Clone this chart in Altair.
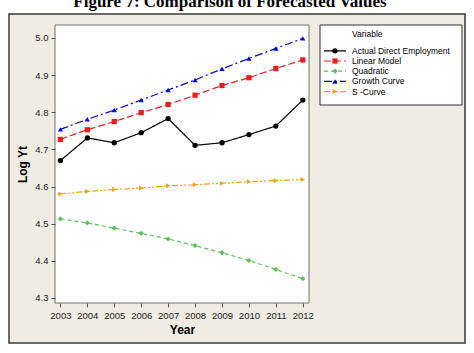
import altair as alt
import pandas as pd

years = [2003, 2004, 2005, 2006, 2007, 2008, 2009, 2010, 2011, 2012]
series_names = ["Actual Direct Employment", "Linear  Model", "Quadratic", "Growth Curve", "S -Curve"]
actual = [4.670, 4.731, 4.718, 4.745, 4.783, 4.711, 4.718, 4.740, 4.763, 4.833]
linear = [4.727, 4.753, 4.775, 4.799, 4.821, 4.846, 4.872, 4.893, 4.918, 4.941]
quadratic = [4.513, 4.502, 4.488, 4.474, 4.459, 4.441, 4.422, 4.401, 4.377, 4.352]
growth = [4.754, 4.781, 4.806, 4.833, 4.860, 4.887, 4.917, 4.945, 4.972, 4.999]
scurve = [4.580, 4.587, 4.592, 4.596, 4.602, 4.605, 4.609, 4.613, 4.616, 4.619]
y_ticks = [4.3, 4.4, 4.5, 4.6, 4.7, 4.8, 4.9, 5.0]

colors = ["#000000", "#ee1c1c", "#5cc05c", "#0000ee", "#f5a01a"]
shapes = ["circle", "square", "diamond", "triangle-up", "triangle-right"]
dashes = [[1, 0], [7, 3], [4, 3], [8, 3, 2, 3], [6, 2, 2, 2, 2, 2]]
sizes = [28, 26, 40, 42, 42]

rows = []
for name, vals in zip(series_names, [actual, linear, quadratic, growth, scurve]):
    for yr, v in zip(years, vals):
        rows.append({"series": name, "year": yr, "value": v})
df = pd.DataFrame(rows)
leg_df = pd.DataFrame({"series": series_names})
one = pd.DataFrame({"a": [0]})

W, H = 254, 278
FONT = "Liberation Sans"

color = alt.Color("series:N", scale=alt.Scale(domain=series_names, range=colors), legend=None)
shape = alt.Shape("series:N", scale=alt.Scale(domain=series_names, range=shapes), legend=None)
dash = alt.StrokeDash("series:N", scale=alt.Scale(domain=series_names, range=dashes), legend=None)
size = alt.Size("series:O", scale=alt.Scale(domain=series_names, range=sizes), legend=None)

axis_common = dict(grid=False, domain=False, zindex=2, tickSize=4, tickColor="#555555",
                   labelFont=FONT, labelFontSize=9.5, labelColor="#222222", titleFont=FONT,
                   titleFontSize=12, titleFontWeight="bold", titleColor="black", labelPadding=3)

x = alt.X("year:Q", scale=alt.Scale(domain=[2002.8, 2012.23], nice=False, zero=False),
          axis=alt.Axis(values=years, format="d", title="Year", titlePadding=5, **axis_common))
y = alt.Y("value:Q", scale=alt.Scale(domain=[4.2865, 5.035], nice=False, zero=False),
          axis=alt.Axis(values=y_ticks, format=".1f", title="Log Yt", titlePadding=5, **axis_common))

frame = alt.Chart(one).mark_rect(fill="#efece3", stroke="#3a3a3a", strokeWidth=1.5).encode(
    x=alt.value(-46), x2=alt.value(410), y=alt.value(-11), y2=alt.value(318))
plotbg = alt.Chart(one).mark_rect(fill="white", stroke="#707070", strokeWidth=1).encode(
    x=alt.value(0), x2=alt.value(W), y=alt.value(0), y2=alt.value(H))
legbox = alt.Chart(one).mark_rect(fill="white", stroke="#333333", strokeWidth=1).encode(
    x=alt.value(265), x2=alt.value(407), y=alt.value(0), y2=alt.value(80))

lines = alt.Chart(df).mark_line(strokeWidth=1.2).encode(x=x, y=y, color=color, strokeDash=dash,
                                                        order="year:Q")
points = alt.Chart(df).mark_point(filled=True, opacity=1).encode(x=x, y=y, color=color, shape=shape,
                                                                 size=size)
main = alt.layer(lines, points)

ly = alt.Y("series:N", scale=alt.Scale(domain=series_names, range=[20.7, 71.7], padding=0), axis=None)
leg_rule = alt.Chart(leg_df).mark_rule(strokeWidth=1.2).encode(
    x=alt.value(269), x2=alt.value(291), y=ly, color=color, strokeDash=dash)
leg_pt = alt.Chart(leg_df).mark_point(filled=True, opacity=1).encode(
    x=alt.value(280), y=ly, color=color, shape=shape, size=size)
leg_txt = alt.Chart(leg_df).mark_text(align="left", baseline="middle", font=FONT, fontSize=8.5,
                                      color="black").encode(x=alt.value(297), y=ly, text="series:N")
legend = alt.layer(leg_rule, leg_pt, leg_txt)

leg_title = alt.Chart(one).mark_text(text="Variable", align="left", baseline="middle", font=FONT,
                                     fontSize=8.5, color="black").encode(x=alt.value(297), y=alt.value(9))
fig_title = alt.Chart(one).mark_text(text="Figure 7: Comparison of Forecasted Values", align="center",
                                     baseline="alphabetic", font="Liberation Serif", fontSize=17,
                                     fontWeight="bold", color="black").encode(x=alt.value(175),
                                                                              y=alt.value(-18))

chart = alt.layer(frame, plotbg, legbox, main, legend, leg_title, fig_title).resolve_scale(
    y="independent"
).properties(
    width=W, height=H,
    autosize=alt.AutoSizeParams(type="none"),
    padding={"left": 55, "top": 25, "right": 165, "bottom": 50},
    background="white",
).configure_view(stroke=None)

chart.save("out.html", embed_options={"renderer": "svg", "actions": False})
